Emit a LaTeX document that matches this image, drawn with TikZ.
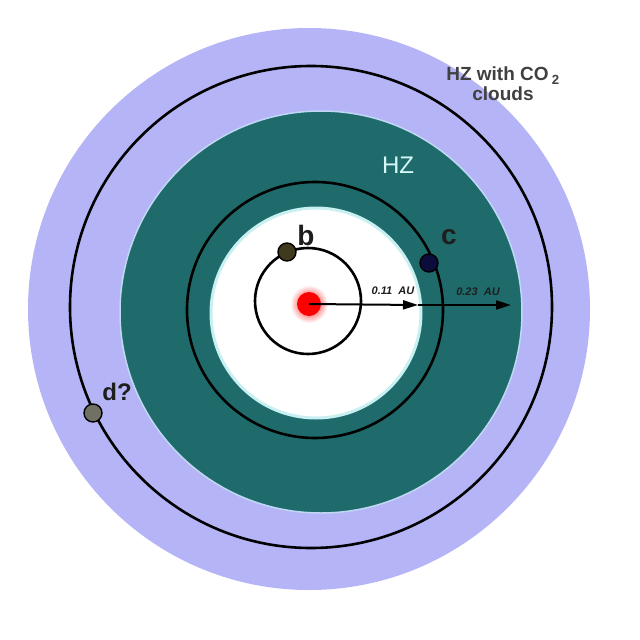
\documentclass[tikz,border=0pt]{standalone}
\usepackage{fontspec}
\setmainfont{Liberation Sans}
\usetikzlibrary{arrows.meta}
\definecolor{lav}{RGB}{180,180,246}
\definecolor{teal2}{RGB}{31,107,107}
\definecolor{rim}{RGB}{200,240,242}
\definecolor{pb}{RGB}{62,58,30}
\definecolor{pc}{RGB}{12,12,60}
\definecolor{pd}{RGB}{112,112,100}
\definecolor{txt}{RGB}{30,30,30}
\definecolor{hzc}{RGB}{215,248,248}
\tikzset{
  orbit/.style={draw=black, line width=2.6pt},
  planet/.style={circle, draw=black, line width=1.4pt, minimum size=18pt, inner sep=0pt},
  plabel/.style={font=\fontsize{28}{30}\selectfont\bfseries, text=txt, inner sep=0pt},
  aulabel/.style={font=\fontsize{11}{12}\selectfont\bfseries\itshape, text=txt, inner sep=0pt},
  arr/.style={line width=2pt, -{Triangle[length=15pt,width=9pt]}}
}
\begin{document}
\begin{tikzpicture}[x=1pt,y=-1pt]
\useasboundingbox (0,0) rectangle (640,640);
\fill[white] (0,0) rectangle (640,640);
% zones
\fill[lav] (309,309) circle [radius=281];
\fill[teal2, draw=rim!60!lav, line width=1.5pt] (321,312) circle [radius=201];
\fill[white, draw=rim, line width=3pt] (316,313) circle [radius=105];
% orbits
\draw[orbit] (311,307) circle [radius=241];
\draw[orbit] (315,310) circle [radius=128];
\draw[orbit] (308,301) circle [radius=53];
% star
\shade[inner color=red, outer color=white] (309,304) circle [radius=19];
\node[circle, fill=red, minimum size=24pt, inner sep=0pt] (star) at (309,304) {};
% arrows
\coordinate (a1) at (418,305);
\coordinate (a2) at (511,305);
\draw[arr] (star.center) -- (a1);
\draw[arr] (a1) -- (a2);
\node[aulabel] (l1) at (393,291) {0.11\ \ AU};
\node[aulabel] (l2) at (478,292) {0.23\ \ AU};
% planets
\node[planet, fill=pb] (b) at (287,252) {};
\node[planet, fill=pc] (c) at (429,263) {};
\node[planet, fill=pd] (d) at (93,413) {};
\node[plabel] (lb) at (306,235) {b};
\node[plabel] (lc) at (449,237) {c};
\node[plabel, font=\fontsize{24}{26}\selectfont\bfseries] (ld) at (117,392) {d?};
% zone labels
\node[font=\fontsize{24}{28}\selectfont, text=hzc, inner sep=0pt] (hz) at (398,165) {HZ};
\node[font=\fontsize{19}{22}\selectfont\bfseries, text=txt!85!white, align=center, inner sep=0pt] (hzco) at (503,84)
  {HZ with CO\,$_{\mathbf 2}$\\[-2pt]clouds};
\end{tikzpicture}
\end{document}
